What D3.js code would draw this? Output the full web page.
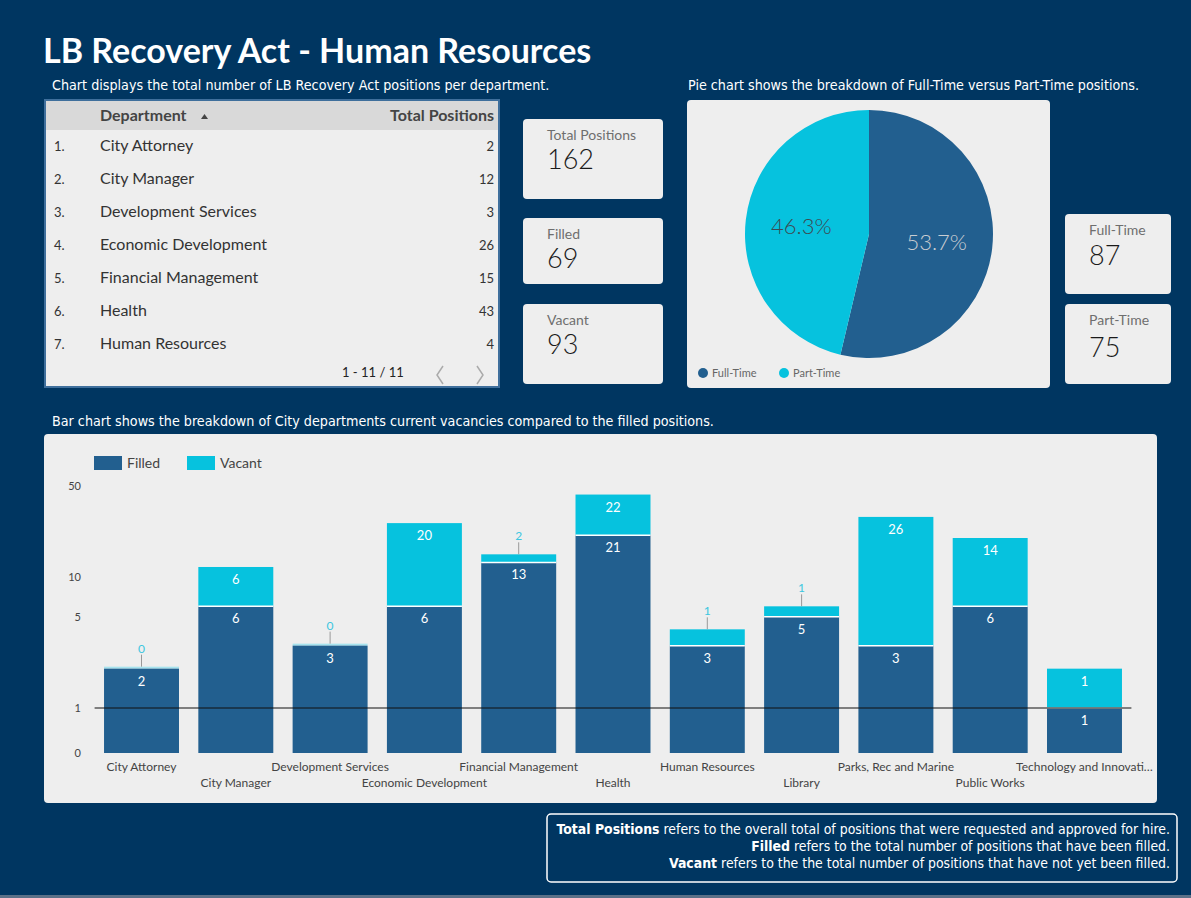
<!DOCTYPE html>
<html>
<head>
<meta charset="utf-8">
<script src="https://cdn.jsdelivr.net/npm/d3@7"></script>
<style>
  html, body { margin: 0; padding: 0; background: #003661; }
  svg { display: block; }
  .narrow { font-family: "Liberation Sans Narrow", "DejaVu Sans Condensed", Roboto, sans-serif; }
  .main { font-family: Lato, "Open Sans", sans-serif; }
</style>
</head>
<body>
<svg id="dash"></svg>
<script>
// 데이터
const departments = [
  "City Attorney", "City Manager", "Development Services", "Economic Development",
  "Financial Management", "Health", "Human Resources", "Library",
  "Parks, Rec and Marine", "Public Works", "Technology and Innovation"
];
const filled = [2, 6, 3, 6, 13, 21, 3, 5, 3, 6, 1];
const vacant = [0, 6, 0, 20, 2, 22, 1, 1, 26, 14, 1];
const totalPositions = [2, 12, 3, 26, 15, 43, 4, 6, 29, 20, 2];

const kpiLabels = ["Total Positions", "Filled", "Vacant"];
const kpiValues = [162, 69, 93];

const employmentTypes = ["Full-Time", "Part-Time"];
const employmentCounts = [87, 75];

const yTicks = [0, 1, 5, 10, 50];
const seriesNames = ["Filled", "Vacant"];

// 색상
const bg = "#003661";
const card = "#eeeeee";
const darkBlue = "#225f8f";
const cyan = "#06c2de";

const W = 1191, H = 898;
const svg = d3.select("#dash").attr("width", W).attr("height", H);
svg.append("rect").attr("width", W).attr("height", H).attr("fill", bg);
svg.append("rect").attr("x", 0).attr("y", 895).attr("width", W).attr("height", 3).attr("fill", "#5b7087");

// 제목
svg.append("text").attr("class", "main")
  .attr("x", 43).attr("y", 63)
  .attr("fill", "#fff").style("font-size", "34px").style("font-weight", 700)
  .text("LB Recovery Act - Human Resources");

const subtitle = (x, y, t) => svg.append("text").attr("class", "narrow")
  .attr("x", x).attr("y", y).attr("fill", "#fff").style("font-size", "14.2px").text(t);
subtitle(52, 90, "Chart displays the total number of LB Recovery Act positions per department.");
subtitle(688, 90, "Pie chart shows the breakdown of Full-Time versus Part-Time positions.");
subtitle(52, 426, "Bar chart shows the breakdown of City departments current vacancies compared to the filled positions.");

// 테이블
const table = svg.append("g");
table.append("rect").attr("x", 45).attr("y", 100).attr("width", 454).attr("height", 287)
  .attr("fill", card).attr("stroke", "#3f6f9c").attr("stroke-width", 2);
table.append("rect").attr("x", 46).attr("y", 101).attr("width", 452).attr("height", 29).attr("fill", "#d9d9d9");
table.append("text").attr("class", "main").attr("x", 100).attr("y", 121)
  .attr("fill", "#444").style("font-size", "16px").style("font-weight", 700).text("Department");
table.append("path").attr("d", "M201,119 L208,119 L204.5,114 Z").attr("fill", "#444");
table.append("text").attr("class", "main").attr("x", 494).attr("y", 121).attr("text-anchor", "end")
  .attr("fill", "#444").style("font-size", "16px").style("font-weight", 700).text("Total Positions");

const rowY = d3.scaleLinear().domain([0, 1]).range([151, 184]);
const rows = table.selectAll("g.row").data(departments.slice(0, 7)).enter().append("g")
  .attr("transform", (d, i) => `translate(0,${rowY(i)})`);
rows.append("text").attr("class", "main").attr("x", 54).attr("fill", "#333").style("font-size", "13px")
  .text((d, i) => (i + 1) + ".");
rows.append("text").attr("class", "main").attr("x", 100).attr("fill", "#333").style("font-size", "16px")
  .text(d => d);
rows.append("text").attr("class", "main").attr("x", 494).attr("text-anchor", "end").attr("fill", "#333")
  .style("font-size", "13px").text((d, i) => totalPositions[i]);
table.append("text").attr("class", "main").attr("x", 342).attr("y", 377).attr("fill", "#222")
  .style("font-size", "13px").text("1 - 11 / 11");
table.append("path").attr("d", "M443,366 L437,375 L443,384").attr("fill", "none").attr("stroke", "#aaa").attr("stroke-width", 1.5);
table.append("path").attr("d", "M477,366 L483,375 L477,384").attr("fill", "none").attr("stroke", "#aaa").attr("stroke-width", 1.5);

// KPI 카드
function kpiCard(x, y, w, h, label, value, labelDy, valueDy) {
  const g = svg.append("g").attr("transform", `translate(${x},${y})`);
  g.append("rect").attr("width", w).attr("height", h).attr("rx", 4).attr("fill", card);
  g.append("text").attr("class", "main").attr("x", 24).attr("y", labelDy)
    .attr("fill", "#6e6e6e").style("font-size", "14px").text(label);
  g.append("text").attr("class", "main").attr("x", 24).attr("y", valueDy)
    .attr("fill", "#1a1a1a").style("font-size", "27px").style("font-weight", 300).text(value);
}
const kpiY = [119, 218, 304];
const kpiH = [80, 66, 80];
kpiLabels.forEach((l, i) => kpiCard(523, kpiY[i], 140, kpiH[i], l, kpiValues[i], 21, 50));

// 파이 차트
svg.append("rect").attr("x", 687).attr("y", 100).attr("width", 363).attr("height", 288).attr("rx", 4).attr("fill", card);
const pieColor = d3.scaleOrdinal().domain(employmentTypes).range([darkBlue, cyan]);
const pieData = employmentTypes.map((t, i) => ({ label: t, value: employmentCounts[i] }));
const pie = d3.pie().value(d => d.value).sort(null);
const radius = 124;
const arc = d3.arc().innerRadius(0).outerRadius(radius);
const labelArc = d3.arc().innerRadius(radius * 0.55).outerRadius(radius * 0.55);
const pieG = svg.append("g").attr("transform", "translate(869,234)");
const totalEmp = d3.sum(employmentCounts);
const arcs = pie(pieData);
pieG.selectAll("path").data(arcs).enter().append("path")
  .attr("d", arc).attr("fill", d => pieColor(d.data.label));
pieG.selectAll("text").data(arcs).enter().append("text").attr("class", "main")
  .attr("transform", d => `translate(${labelArc.centroid(d)})`)
  .attr("text-anchor", "middle").attr("dy", "0.35em")
  .attr("fill", (d, i) => i === 0 ? "#c9cdd2" : "#3d4a52")
  .style("font-size", "22px").style("font-weight", 300)
  .text(d => (d.data.value / totalEmp * 100).toFixed(1) + "%");

const pieLegend = svg.append("g").attr("transform", "translate(703,373)");
employmentTypes.forEach((t, i) => {
  const lg = pieLegend.append("g").attr("transform", `translate(${i * 81},0)`);
  lg.append("circle").attr("r", 5).attr("fill", pieColor(t));
  lg.append("text").attr("class", "main").attr("x", 9).attr("dy", "0.35em")
    .attr("fill", "#666").style("font-size", "11px").text(t);
});

kpiCard(1065, 214, 106, 80, employmentTypes[0], employmentCounts[0], 21, 51);
kpiCard(1065, 304, 106, 80, employmentTypes[1], employmentCounts[1], 21, 53);

// 막대 차트
svg.append("rect").attr("x", 44).attr("y", 434).attr("width", 1113).attr("height", 369).attr("rx", 4).attr("fill", card);

const x = d3.scaleBand().domain(departments).range([94.6, 1131.4]).paddingInner(0.205).paddingOuter(0.1);
const baseY = 753;
const yLog = d3.scaleLog().domain([1, 50]).range([708, 486]);
const y = v => v < 1 ? baseY : yLog(v);
const barColor = d3.scaleOrdinal().domain(seriesNames).range([darkBlue, cyan]);

// 범례
const legend = svg.append("g").attr("transform", "translate(94,456)");
seriesNames.forEach((s, i) => {
  const lg = legend.append("g").attr("transform", `translate(${i * 93},0)`);
  lg.append("rect").attr("width", 28).attr("height", 14).attr("fill", barColor(s));
  lg.append("text").attr("class", "main").attr("x", 33).attr("y", 12)
    .attr("fill", "#444").style("font-size", "14px").text(s);
});

// y축 라벨
svg.append("g").selectAll("text").data(yTicks).enter().append("text").attr("class", "main")
  .attr("x", 81).attr("y", d => y(d)).attr("dy", "0.35em").attr("text-anchor", "end")
  .attr("fill", "#444").style("font-size", "11px").text(d => d);

const bars = svg.append("g").selectAll("g").data(departments).enter().append("g")
  .attr("transform", d => `translate(${x(d)},0)`);

// 공석 (위쪽)
bars.append("rect")
  .attr("y", (d, i) => vacant[i] > 0 ? y(filled[i] + vacant[i]) : y(filled[i]) - 2)
  .attr("height", (d, i) => vacant[i] > 0 ? y(filled[i]) - y(filled[i] + vacant[i]) : 2)
  .attr("width", x.bandwidth())
  .attr("fill", (d, i) => vacant[i] > 0 ? barColor("Vacant") : "#a6e3ee");
// 충원 (아래쪽)
bars.append("rect")
  .attr("y", (d, i) => y(filled[i]))
  .attr("height", (d, i) => baseY - y(filled[i]))
  .attr("width", x.bandwidth())
  .attr("fill", barColor("Filled"));
bars.filter((d, i) => vacant[i] > 0).append("line")
  .attr("x1", 0).attr("x2", x.bandwidth())
  .attr("y1", d => y(filled[departments.indexOf(d)]))
  .attr("y2", d => y(filled[departments.indexOf(d)]))
  .attr("stroke", "#fff").attr("stroke-width", 1.5);

// 값 라벨
bars.append("text").attr("class", "main")
  .attr("x", x.bandwidth() / 2).attr("y", (d, i) => y(filled[i]) + 17)
  .attr("text-anchor", "middle").attr("fill", "#fff").style("font-size", "13px")
  .text((d, i) => filled[i]);
bars.each(function (d, i) {
  const g = d3.select(this);
  const top = y(filled[i] + vacant[i]);
  const h = y(filled[i]) - top;
  if (h >= 20) {
    g.append("text").attr("class", "main")
      .attr("x", x.bandwidth() / 2).attr("y", top + 17)
      .attr("text-anchor", "middle").attr("fill", "#fff").style("font-size", "13px")
      .text(vacant[i]);
  } else {
    const t = vacant[i] > 0 ? top : top - 2;
    g.append("line").attr("x1", x.bandwidth() / 2).attr("x2", x.bandwidth() / 2)
      .attr("y1", t - 12).attr("y2", t).attr("stroke", "#999").attr("stroke-width", 1);
    g.append("text").attr("class", "main")
      .attr("x", x.bandwidth() / 2).attr("y", t - 14)
      .attr("text-anchor", "middle").attr("fill", "#3cc6e0").style("font-size", "12px")
      .text(vacant[i]);
  }
});

// 기준선 (1)
svg.append("line").attr("x1", x.range()[0]).attr("x2", x.range()[1])
  .attr("y1", y(1)).attr("y2", y(1)).attr("stroke", "#111").attr("stroke-width", 1.2);

// x축 라벨 (엇갈림)
svg.append("g").selectAll("text").data(departments).enter().append("text").attr("class", "main")
  .attr("x", d => x(d) + x.bandwidth() / 2)
  .attr("y", (d, i) => i % 2 === 0 ? 771 : 787)
  .attr("text-anchor", "middle").attr("fill", "#444").style("font-size", "12px")
  .text(d => d.length > 23 ? d.slice(0, 23) + "…" : d);

// 각주
const note = svg.append("g");
note.append("rect").attr("x", 547).attr("y", 814).attr("width", 630).attr("height", 68).attr("rx", 4)
  .attr("fill", "none").attr("stroke", "#fff").attr("stroke-width", 1.5);
const notes = [
  ["Total Positions", " refers to the overall total of positions that were requested and approved for hire."],
  ["Filled", " refers to the total number of positions that have been filled."],
  ["Vacant", " refers to the the total number of positions that have not yet been filled."]
];
notes.forEach((n, i) => {
  const t = note.append("text").attr("class", "narrow").attr("x", 1170).attr("y", 834 + i * 17)
    .attr("text-anchor", "end").attr("fill", "#fff").style("font-size", "13.9px");
  t.append("tspan").style("font-weight", 700).text(n[0]);
  t.append("tspan").text(n[1]);
});
</script>
</body>
</html>
